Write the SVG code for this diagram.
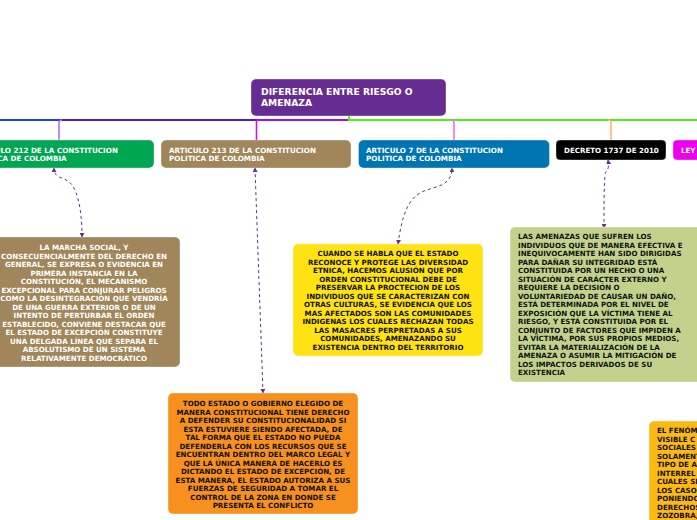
<svg xmlns="http://www.w3.org/2000/svg" width="697" height="520" viewBox="0 0 697 520">
<style>
text{font-family:"DejaVu Sans",Verdana,sans-serif;font-weight:700;font-size:7.1px}
.w{fill:#fff}.k{fill:#111}.m{text-anchor:middle}
.h{font-size:7.2px}
.t{font-size:9.200px}
.box{stroke:#fff;stroke-opacity:.35;stroke-width:1}
.bus{fill:none;stroke-width:2}
.stub{fill:none;stroke-width:1.600}
.dash{fill:none;stroke:#6b2d8f;stroke-width:1;stroke-dasharray:3 3;marker-start:url(#a);marker-end:url(#a)}
</style>
<defs>
<marker id="a" viewBox="0 0 6 6" refX="5" refY="3" markerWidth="5" markerHeight="5" orient="auto-start-reverse"><path d="M0 0L6 3L0 6Z" fill="#6b2d8f"/></marker>
</defs>
<rect width="697" height="520" fill="#fff"/>
<g id="connectors">
<path class="bus" stroke="#1f3df0" d="M0 120H59"/>
<path class="bus" stroke="#4c16f2" d="M59 120H257"/>
<path class="bus" stroke="#9a10f5" d="M257 120H349V116"/>
<path class="bus" stroke="#4cf01a" d="M349 116V120H697"/>
<path class="stub" stroke="#b070f8" d="M59 140V123Q59 120 62 120"/>
<path class="stub" stroke="#c812ee" d="M256.500 140V120"/>
<path class="stub" stroke="#fb6cdc" d="M454 140V123Q454 120 451 120"/>
<path class="stub" stroke="#fdbb66" d="M611 140V123Q611 120 608 120"/>
<path class="dash" d="M82 237C82 205 76 186 68 181C62 177 54 178 54 168"/>
<path class="dash" d="M263 393L255 168"/>
<path class="dash" d="M398 244C402 215 408 200 420 193C432 186 452 188 452 168"/>
<path class="dash" d="M604 228C604 200 604 190 605 175C605 170 610 172 608 160"/>
</g>
<g id="root"><rect class="box" x="251" y="79" width="195" height="37" rx="5" fill="#672c91"/>
<text class="w t" x="261" y="95">DIFERENCIA ENTRE RIESGO O</text><text class="w t" x="261" y="106">AMENAZA</text></g>
<g id="n212"><rect class="box" x="-37" y="140" width="191" height="28" rx="5" fill="#00a651"/>
<text class="w h" x="-29" y="153">ARTICULO 212 DE LA CONSTITUCION</text><text class="w h" x="-29" y="161">POLITICA DE COLOMBIA</text></g>
<g id="n213"><rect class="box" x="161" y="140" width="190" height="28" rx="5" fill="#a0865a"/>
<text class="w h" x="169" y="153">ARTICULO 213 DE LA CONSTITUCION</text><text class="w h" x="169" y="161">POLITICA DE COLOMBIA</text></g>
<g id="n7"><rect class="box" x="358.500" y="140" width="191" height="28" rx="5" fill="#0075b4"/>
<text class="w h" x="366" y="153">ARTICULO 7 DE LA CONSTITUCION</text><text class="w h" x="366" y="161">POLITICA DE COLOMBIA</text></g>
<g id="decreto"><rect class="box" x="556" y="140" width="110" height="20" rx="4" fill="#000"/>
<text class="w" x="564" y="153">DECRETO 1737 DE 2010</text></g>
<g id="ley"><rect class="box" x="673" y="140" width="40" height="20" rx="4" fill="#ee00ee"/>
<text class="w" x="681" y="153">LEY</text></g>
<g id="marcha"><rect class="box" x="-12" y="237" width="192" height="130" rx="5" fill="#a0865a"/>
<text class="w m" x="84" y="250">LA MARCHA SOCIAL, Y</text>
<text class="w m" x="84" y="258.500">CONSECUENCIALMENTE DEL DERECHO EN</text>
<text class="w m" x="84" y="267">GENERAL, SE EXPRESA O EVIDENCIA EN</text>
<text class="w m" x="84" y="275.500">PRIMERA INSTANCIA EN LA</text>
<text class="w m" x="84" y="284">CONSTITUCIÓN, EL MECANISMO</text>
<text class="w m" x="84" y="292.500">EXCEPCIONAL PARA CONJURAR PELIGROS</text>
<text class="w m" x="84" y="301">COMO LA DESINTEGRACIÓN QUE VENDRÍA</text>
<text class="w m" x="84" y="309.500">DE UNA GUERRA EXTERIOR O DE UN</text>
<text class="w m" x="84" y="318">INTENTO DE PERTURBAR EL ORDEN</text>
<text class="w m" x="84" y="326.500">ESTABLECIDO, CONVIENE DESTACAR QUE</text>
<text class="w m" x="84" y="335">EL ESTADO DE EXCEPCIÓN CONSTITUYE</text>
<text class="w m" x="84" y="343.500">UNA DELGADA LÍNEA QUE SEPARA EL</text>
<text class="w m" x="84" y="352">ABSOLUTISMO DE UN SISTEMA</text>
<text class="w m" x="84" y="360.500">RELATIVAMENTE DEMOCRÁTICO</text></g>
<g id="cuando"><rect class="box" x="293" y="244" width="190" height="112" rx="5" fill="#fee211"/>
<text class="k m" x="388" y="256">CUANDO SE HABLA QUE EL ESTADO</text>
<text class="k m" x="388" y="264.500">RECONOCE Y PROTEGE LAS DIVERSIDAD</text>
<text class="k m" x="388" y="273">ETNICA, HACEMOS ALUSIÓN QUE POR</text>
<text class="k m" x="388" y="281.500">ORDEN CONSTITUCIONAL DEBE DE</text>
<text class="k m" x="388" y="290">PRESERVAR LA PROCTECION DE LOS</text>
<text class="k m" x="388" y="298.500">INDIVIDUOS QUE SE CARACTERIZAN CON</text>
<text class="k m" x="388" y="307">OTRAS CULTURAS, SE EVIDENCIA QUE LOS</text>
<text class="k m" x="388" y="315.500">MAS AFECTADOS SON LAS COMUNIDADES</text>
<text class="k m" x="388" y="324">INDIGENAS LOS CUALES RECHAZAN TODAS</text>
<text class="k m" x="388" y="332.500">LAS MASACRES PERPRETADAS A SUS</text>
<text class="k m" x="388" y="341">COMUNIDADES, AMENAZANDO SU</text>
<text class="k m" x="388" y="349.500">EXISTENCIA DENTRO DEL TERRITORIO</text></g>
<g id="amenazas"><rect class="box" x="510" y="227" width="192" height="155" rx="5" fill="#c2d18b"/>
<text class="k" x="518" y="239">LAS AMENAZAS QUE SUFREN LOS</text>
<text class="k" x="518" y="247.500">INDIVIDUOS QUE DE MANERA EFECTIVA E</text>
<text class="k" x="518" y="256">INEQUIVOCAMENTE HAN SIDO DIRIGIDAS</text>
<text class="k" x="518" y="264.500">PARA DAÑAR SU INTEGRIDAD ESTÁ</text>
<text class="k" x="518" y="273">CONSTITUIDA POR UN HECHO O UNA</text>
<text class="k" x="518" y="281.500">SITUACIÓN DE CARÁCTER EXTERNO Y</text>
<text class="k" x="518" y="290">REQUIERE LA DECISIÓN O</text>
<text class="k" x="518" y="298.500">VOLUNTARIEDAD DE CAUSAR UN DAÑO,</text>
<text class="k" x="518" y="307">ESTÁ DETERMINADA POR EL NIVEL DE</text>
<text class="k" x="518" y="315.500">EXPOSICIÓN QUE LA VÍCTIMA TIENE AL</text>
<text class="k" x="518" y="324">RIESGO, Y ESTÁ CONSTITUIDA POR EL</text>
<text class="k" x="518" y="332.500">CONJUNTO DE FACTORES QUE IMPIDEN A</text>
<text class="k" x="518" y="341">LA VÍCTIMA, POR SUS PROPIOS MEDIOS,</text>
<text class="k" x="518" y="349.500">EVITAR LA MATERIALIZACIÓN DE LA</text>
<text class="k" x="518" y="358">AMENAZA O ASUMIR LA MITIGACIÓN DE</text>
<text class="k" x="518" y="366.500">LOS IMPACTOS DERIVADOS DE SU</text>
<text class="k" x="518" y="375">EXISTENCIA</text></g>
<g id="todo"><rect class="box" x="168" y="393" width="190" height="121" rx="5" fill="#f7901e"/>
<text class="k m" x="263" y="406">TODO ESTADO O GOBIERNO ELEGIDO DE</text>
<text class="k m" x="263" y="414.500">MANERA CONSTITUCIONAL TIENE DERECHO</text>
<text class="k m" x="263" y="423">A DEFENDER SU CONSTITUCIONALIDAD SI</text>
<text class="k m" x="263" y="431.500">ESTA ESTUVIERE SIENDO AFECTADA, DE</text>
<text class="k m" x="263" y="440">TAL FORMA QUE EL ESTADO NO PUEDA</text>
<text class="k m" x="263" y="448.500">DEFENDERLA CON LOS RECURSOS QUE SE</text>
<text class="k m" x="263" y="457">ENCUENTRAN DENTRO DEL MARCO LEGAL Y</text>
<text class="k m" x="263" y="465.500">QUE LA ÚNICA MANERA DE HACERLO ES</text>
<text class="k m" x="263" y="474">DICTANDO EL ESTADO DE EXCEPCIÓN, DE</text>
<text class="k m" x="263" y="482.500">ESTA MANERA, EL ESTADO AUTORIZA A SUS</text>
<text class="k m" x="263" y="491">FUERZAS DE SEGURIDAD A TOMAR EL</text>
<text class="k m" x="263" y="499.500">CONTROL DE LA ZONA EN DONDE SE</text>
<text class="k m" x="263" y="508">PRESENTA EL CONFLICTO</text></g>
<g id="fenomeno"><rect class="box" x="649" y="421" width="70" height="110" rx="5" fill="#fdb913"/>
<text class="k" x="657" y="433">EL FENÓM</text>
<text class="k" x="657" y="441.500">VISIBLE C</text>
<text class="k" x="657" y="450">SOCIALES</text>
<text class="k" x="657" y="458.500">SOLAMENT</text>
<text class="k" x="657" y="467">TIPO DE A</text>
<text class="k" x="657" y="475.500">INTERREL</text>
<text class="k" x="657" y="484">CUALES SE</text>
<text class="k" x="657" y="492.500">LOS CASOS</text>
<text class="k" x="657" y="501">PONIENDO</text>
<text class="k" x="657" y="509.500">DERECHOS</text>
<text class="k" x="657" y="518">ZOZOBRA,</text></g>
</svg>
